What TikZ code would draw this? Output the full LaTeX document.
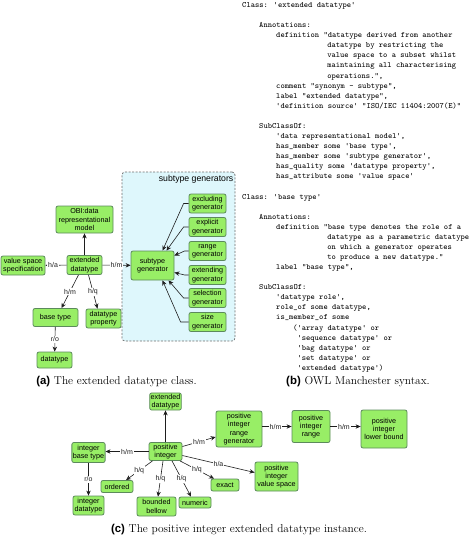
\documentclass[tikz,border=0pt]{standalone}
\usepackage{fontspec}
\newfontfamily\nodefont{Liberation Sans}
\newfontfamily\capsf{Liberation Sans}
\usetikzlibrary{arrows.meta}
\definecolor{nodefill}{RGB}{152,238,102}
\definecolor{nodedraw}{RGB}{92,138,92}
\definecolor{boxfill}{RGB}{222,247,252}
\definecolor{boxdraw}{RGB}{110,110,110}
\definecolor{linec}{RGB}{30,30,30}
\tikzset{
 cls/.style={draw=nodedraw, fill=nodefill, rounded corners=2pt, line width=0.8pt, align=center, inner sep=1pt, font=\nodefont\fontsize{7.2}{8.3}\selectfont},
 arr/.style={draw=linec, line width=0.6pt, -{Stealth[length=5pt,width=4.4pt]}},
 lbl/.style={fill=white, inner sep=0.8pt, font=\nodefont\fontsize{7}{8}\selectfont, text=linec},
 codeline/.style={anchor=base west, inner sep=0, font=\fontsize{8.1}{10}\ttfamily\addfontfeatures{FakeBold=0.3}},
 captext/.style={inner sep=0, font=\fontsize{11.4}{13}\selectfont},
 gbox/.style={draw=boxdraw, dash pattern=on 2pt off 1.5pt, fill=boxfill, rounded corners=3pt, line width=0.7pt},
}
\newcommand\cln[4]{\node[codeline] (#1) at ({242+#2*4.2525},{7.5+#3*10.08}) {#4};}
\begin{document}
\begin{tikzpicture}[x=1pt,y=-1pt]
\useasboundingbox (0,0) rectangle (474,536);
% ---------------- panel (a)
\node[gbox, minimum width=113pt, minimum height=169pt] (sgbox) at (178.5,256.5) {};
\node[anchor=east, inner sep=0, font=\nodefont\fontsize{8.7}{10}\selectfont] (sgtitle) at (233.5,179) {subtype generators};

\node[cls, minimum width=57pt, minimum height=27pt] (obi) at (84.5,219.5) {OBI:data\\representational\\model};
\node[cls, minimum width=35pt, minimum height=19pt] (ext) at (84.5,265) {extended\\datatype};
\node[cls, minimum width=44pt, minimum height=19pt] (vss) at (23,265.5) {value space\\specification};
\node[cls, minimum width=43pt, minimum height=29pt] (sg) at (152.5,265.5) {subtype\\generator};
\node[cls, minimum width=37pt, minimum height=19pt] (excl) at (207.5,203.5) {excluding\\generator};
\node[cls, minimum width=37pt, minimum height=19pt] (expl) at (207.5,227) {explicit\\generator};
\node[cls, minimum width=37pt, minimum height=19pt] (rng) at (207.5,251) {range\\generator};
\node[cls, minimum width=37pt, minimum height=19pt] (extg) at (207.5,275) {extending\\generator};
\node[cls, minimum width=37pt, minimum height=19pt] (sel) at (207.5,298) {selection\\generator};
\node[cls, minimum width=37pt, minimum height=19pt] (gsize) at (207.5,322) {size\\generator};
\node[cls, minimum width=45pt, minimum height=18pt] (bt) at (55.5,317.5) {base type};
\node[cls, minimum width=35pt, minimum height=19pt] (dp) at (103.5,318.5) {datatype\\property};
\node[cls, minimum width=35pt, minimum height=16pt] (dt) at (54.5,360) {datatype};

\draw[arr] (ext) -- (obi);
\draw[arr] (ext) -- node[lbl, pos=0.64] (la1) {h/a} (vss);
\draw[arr] (ext) -- node[lbl] (la2) {h/m} (sg);
\draw[arr] ([xshift=-6pt]ext.south) -- node[lbl] (la3) {h/m} ([xshift=6pt]bt.north);
\draw[arr] ([xshift=4pt]ext.south) -- node[lbl] (la4) {h/q} ([xshift=-6pt]dp.north);
\draw[arr] (bt) -- node[lbl] (la5) {r/o} (dt);

\draw[arr] (excl.west) -- ++(-5,0) -- ([xshift=10pt]sg.north);
\draw[arr] (expl.west) -- ++(-5,0) -- ([xshift=14pt]sg.north);
\draw[arr] (rng.west) -- ++(-4,0) -- ([yshift=10pt]sg.east);
\draw[arr] (extg.west) -- ++(-4,0) -- ([yshift=-7pt]sg.east);
\draw[arr] (sel.west) -- ++(-5,0) -- ([xshift=16pt]sg.south);
\draw[arr] (gsize.west) -- ++(-8,0) -- ([xshift=10pt]sg.south);

\node[captext] (capa) at (116.5,382) {{\capsf\bfseries (a)} The extended datatype class.};

% ---------------- panel (b)
\cln{c0}{0}{0}{Class: 'extended datatype'}
\cln{c2}{4}{2}{Annotations:}
\cln{c3}{8}{3}{definition "datatype derived from another}
\cln{c4}{20}{4}{datatype by restricting the}
\cln{c5}{20}{5}{value space to a subset whilst}
\cln{c6}{20}{6}{maintaining all characterising}
\cln{c7}{20}{7}{operations.",}
\cln{c8}{8}{8}{comment "synonym - subtype",}
\cln{c9}{8}{9}{label "extended datatype",}
\cln{c10}{8}{10}{'definition source' "ISO/IEC 11404:2007(E)"}
\cln{c12}{4}{12}{SubClassOf:}
\cln{c13}{8}{13}{'data representational model',}
\cln{c14}{8}{14}{has\_member some 'base type',}
\cln{c15}{8}{15}{has\_member some 'subtype generator',}
\cln{c16}{8}{16}{has\_quality some 'datatype property',}
\cln{c17}{8}{17}{has\_attribute some 'value space'}
\cln{c19}{0}{19}{Class: 'base type'}
\cln{c21}{4}{21}{Annotations:}
\cln{c22}{8}{22}{definition "base type denotes the role of a}
\cln{c23}{20}{23}{datatype as a parametric datatype}
\cln{c24}{20}{24}{on which a generator operates}
\cln{c25}{20}{25}{to produce a new datatype."}
\cln{c26}{8}{26}{label "base type",}
\cln{c28}{4}{28}{SubClassOf:}
\cln{c29}{8}{29}{'datatype role',}
\cln{c30}{8}{30}{role\_of some datatype,}
\cln{c31}{8}{31}{is\_member\_of some}
\cln{c32}{12}{32}{('array datatype' or}
\cln{c33}{13}{33}{'sequence datatype' or}
\cln{c34}{13}{34}{'bag datatype' or}
\cln{c35}{13}{35}{'set datatype' or}
\cln{c36}{13}{36}{'extended datatype')}

\node[captext] (capb) at (358,382) {{\capsf\bfseries (b)} OWL Manchester syntax.};

% ---------------- panel (c)
\node[cls, minimum width=31pt, minimum height=17pt] (ext2) at (165.5,401.5) {extended\\datatype};
\node[cls, minimum width=33pt, minimum height=18pt] (pi) at (165.5,451.5) {positive\\integer};
\node[cls, minimum width=31pt, minimum height=20pt] (ibt) at (88.5,452.5) {integer\\base type};
\node[cls, minimum width=31pt, minimum height=19pt] (idt) at (88.5,505.5) {integer\\datatype};
\node[cls, minimum width=32pt, minimum height=12pt] (ord) at (117,486.5) {ordered};
\node[cls, minimum width=39pt, minimum height=19pt] (bb) at (156.5,506.5) {bounded\\bellow};
\node[cls, minimum width=32pt, minimum height=11pt] (num) at (195,502.5) {numeric};
\node[cls, minimum width=28pt, minimum height=12pt] (ex) at (225,485) {exact};
\node[cls, minimum width=43pt, minimum height=29pt] (pivs) at (276.5,476.5) {positive\\integer\\value space};
\node[cls, minimum width=46pt, minimum height=36pt] (rg) at (239,429) {positive\\integer\\range\\generator};
\node[cls, minimum width=38pt, minimum height=32pt] (pir) at (311,426.5) {positive\\integer\\range};
\node[cls, minimum width=46pt, minimum height=38pt] (lb) at (384,429) {positive\\integer\\lower bound};

\draw[arr] (pi) -- (ext2);
\draw[arr] (pi.west) -- node[lbl] (lc1) {h/m} (pi.west -| ibt.east);
\draw[arr] (ibt) -- node[lbl] (lc2) {r/o} (idt);
\draw[arr] ([xshift=-13pt]pi.south) -- node[lbl] (lc3) {h/q} ([xshift=9pt]ord.north);
\draw[arr] ([xshift=-2.5pt]pi.south) -- node[lbl] (lc4) {h/q} ([xshift=1.5pt]bb.north);
\draw[arr] ([xshift=6.5pt]pi.south) -- node[lbl] (lc5) {h/q} ([xshift=-4pt]num.north);
\draw[arr] ([xshift=14.5pt]pi.south) -- node[lbl] (lc6) {h/q} ([xshift=-11pt]ex.north);
\draw[arr] ([yshift=-4pt]pi.east) -- node[lbl] (lc7) {h/a} ([yshift=4pt]pivs.west);
\draw[arr] ([yshift=5pt]pi.east) -- node[lbl] (lc8) {h/m} ([yshift=-8pt]rg.west);
\draw[arr] (rg.east |- pir.west) -- node[lbl, pos=0.45] (lc9) {h/m} (pir.west);
\draw[arr] (pir.east) -- node[lbl, pos=0.45] (lc10) {h/m} (pir.east -| lb.west);

\node[captext] (capc) at (239,530) {{\capsf\bfseries (c)} The positive integer extended datatype instance.};
\end{tikzpicture}
\end{document}
